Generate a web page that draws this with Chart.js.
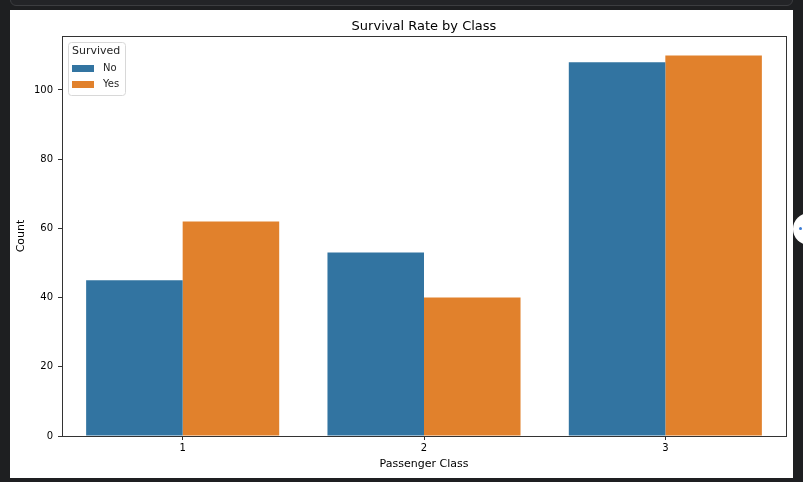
<!DOCTYPE html>
<html>
<head>
<meta charset="utf-8">
<script src="https://cdn.jsdelivr.net/npm/chart.js@4"></script>
<style>
  html, body { margin: 0; padding: 0; background: #1e1f21; width: 803px; height: 482px; overflow: hidden; }
  #strip { position: absolute; left: 10px; top: -6px; width: 781px; height: 10px; border: 1px solid #3c3d40; border-radius: 6px; background: #232427; }
  #fig { position: absolute; left: 10px; top: 10px; width: 783px; height: 468px; background: #fff; }
  #knob { position: absolute; left: 793px; top: 213px; width: 32px; height: 32px; border-radius: 50%; background: #fff; }
  #knob i { position: absolute; left: 6px; top: 14px; width: 3px; height: 3px; background: #3a7bd5; border-radius: 50%; }
</style>
</head>
<body>
<div id="strip"></div>
<div id="fig"><canvas id="myChart" width="783" height="468"></canvas></div>
<div id="knob"><i></i></div>
<script>
var classes = ["1", "2", "3"];
var survivedNo = [45, 53, 108];
var survivedYes = [62, 40, 110];
var seriesNames = ["No", "Yes"];
var yTicks = [0, 20, 40, 60, 80, 100];

var blue = "#3274a1", orange = "#e1812c";
var font = "DejaVu Sans";

var extras = {
    id: "extras",
    afterDraw: function (chart) {
        var c = chart.ctx, a = chart.chartArea;
        c.save();
        // box around plot
        c.strokeStyle = "#333";
        c.lineWidth = 1;
        c.strokeRect(Math.round(a.left) + 0.5, Math.round(a.top) + 0.5, Math.round(a.right - a.left), Math.round(a.bottom - a.top));
        // title
        c.fillStyle = "#000";
        c.font = "13px '" + font + "'";
        c.textAlign = "center";
        c.textBaseline = "middle";
        c.fillText("Survival Rate by Class", (a.left + a.right) / 2, 17);
        // legend
        var lx = a.left + 6, ly = a.top + 6;
        c.fillStyle = "rgba(255,255,255,0.8)";
        c.strokeStyle = "#d8d8d8";
        c.beginPath();
        c.roundRect(lx + 0.5, ly + 0.5, 57, 53, 3);
        c.fill();
        c.stroke();
        c.fillStyle = "#262626";
        c.font = "11px '" + font + "'";
        c.textAlign = "left";
        c.fillText("Survived", lx + 4, ly + 9);
        c.font = "10px '" + font + "'";
        var cols = [blue, orange];
        for (var i = 0; i < seriesNames.length; i++) {
            c.fillStyle = cols[i];
            c.fillRect(lx + 4, ly + 23 + i * 16, 22, 7);
            c.fillStyle = "#262626";
            c.fillText(seriesNames[i], lx + 35, ly + 26 + i * 16);
        }
        c.restore();
    }
};

new Chart("myChart", {
    type: "bar",
    data: {
        labels: classes,
        datasets: [
            { label: seriesNames[0], data: survivedNo, backgroundColor: blue, borderWidth: 0 },
            { label: seriesNames[1], data: survivedYes, backgroundColor: orange, borderWidth: 0 }
        ]
    },
    options: {
        responsive: false,
        animation: false,
        devicePixelRatio: 1,
        layout: { padding: { top: 26, right: 7, left: 0, bottom: 0 } },
        categoryPercentage: 0.8,
        barPercentage: 1,
        plugins: { legend: { display: false }, title: { display: false }, tooltip: { enabled: false } },
        scales: {
            x: {
                grid: { offset: false, drawOnChartArea: false, drawTicks: true, tickLength: 4, tickColor: "#333" },
                border: { color: "#333" },
                ticks: { color: "#000", padding: 2, font: { family: font, size: 10 } },
                title: { display: true, text: "Passenger Class", color: "#000", font: { family: font, size: 11 }, padding: { top: 0, bottom: 7 } },
                afterFit: function (s) { s.height = 42; }
            },
            y: {
                min: 0,
                max: 115.6,
                grid: { drawOnChartArea: false, drawTicks: true, tickLength: 4, tickColor: "#333" },
                border: { color: "#333" },
                ticks: { stepSize: 20, color: "#000", padding: 5, font: { family: font, size: 10 } },
                afterBuildTicks: function (s) { s.ticks = yTicks.map(function (v) { return { value: v }; }); },
                title: { display: true, text: "Count", color: "#000", font: { family: font, size: 11 }, padding: { top: 5, bottom: 0 } },
                afterFit: function (s) { s.width = 52; }
            }
        }
    },
    plugins: [extras]
});
</script>
</body>
</html>
